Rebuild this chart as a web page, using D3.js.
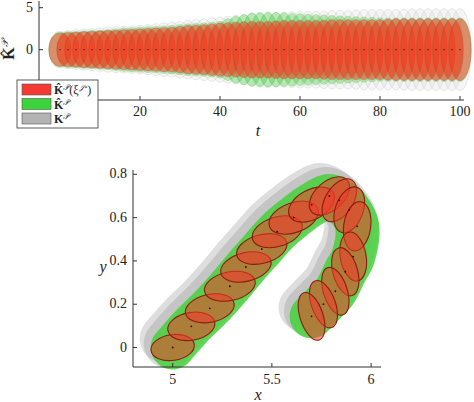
<!DOCTYPE html>
<html><head><meta charset="utf-8">
<script src="https://cdn.jsdelivr.net/npm/d3@7"></script>
<style>
  body { margin:0; background:#fff; }
  text { font-family:"Liberation Serif", "Times New Roman", serif; fill:#222; }
</style></head>
<body>
<svg id="fig" width="474" height="402"></svg>
<script>
// top panel: half-widths at each t (step 2)
var tKnots = d3.range(0, 101, 2);
var redW   = [2.0,2.05,2.1,2.15,2.2,2.25,2.3,2.35,2.4,2.45,2.5,2.55,2.6,2.65,2.7,2.8,2.9,2.95,3.0,3.1,3.2,3.25,3.3,3.35,3.4,3.4,3.4,3.45,3.5,3.5,3.5,3.5,3.5,3.55,3.6,3.6,3.6,3.6,3.6,3.6,3.6,3.65,3.7,3.7,3.7,3.7,3.7,3.7,3.7,3.7,3.7];
var greenW = [2.1,2.15,2.2,2.25,2.3,2.35,2.4,2.5,2.6,2.65,2.7,2.75,2.8,2.85,2.9,3.0,3.1,3.15,3.2,3.3,3.4,3.7,4.0,4.2,4.4,4.45,4.5,4.45,4.4,4.35,4.3,4.25,4.2,4.15,4.1,4.05,4.0,3.95,3.9,3.85,3.8,3.8,3.8,3.8,3.8,3.8,3.8,3.8,3.8,3.8,3.8];
var grayW  = [2.2,2.3,2.4,2.45,2.5,2.6,2.7,2.75,2.8,2.85,2.9,3.0,3.1,3.2,3.3,3.4,3.5,3.6,3.7,3.8,3.9,4.0,4.1,4.2,4.3,4.35,4.4,4.45,4.5,4.55,4.6,4.6,4.6,4.65,4.7,4.7,4.7,4.75,4.8,4.8,4.8,4.8,4.8,4.85,4.9,4.9,4.9,4.9,4.9,4.9,4.9];
var topXTicks = [20,40,60,80,100];
var topYTicks = [0,5];

// bottom panel: ellipse centres, semi-axes (x units), rotation (deg)
var ex = [5.00,5.094,5.187,5.288,5.369,5.449,5.527,5.61,5.70,5.79,5.84,5.89,5.93,5.91,5.87,5.82,5.76,5.70];
var ey = [0.00,0.098,0.181,0.283,0.372,0.455,0.535,0.60,0.66,0.70,0.68,0.636,0.56,0.42,0.35,0.26,0.20,0.144];
var ea = [0.11,0.12,0.125,0.13,0.13,0.13,0.13,0.13,0.125,0.12,0.12,0.12,0.125,0.125,0.125,0.125,0.125,0.125];
var eb = [0.065,0.07,0.07,0.072,0.072,0.072,0.074,0.075,0.075,0.072,0.07,0.07,0.068,0.065,0.062,0.06,0.06,0.058];
var eRot = [-8,-10,-12,-12,-14,-15,-17,-20,-28,-42,-58,-70,-82,80,74,72,70,72];
var botXTicks = [5,5.5,6];
var botYTicks = [0,0.2,0.4,0.6,0.8];

var svg = d3.select("#fig");

// ---------- top ----------
var x1 = d3.scaleLinear().domain([-5.25,101]).range([39,464]);
var y1 = d3.scaleLinear().domain([-6,5.8]).range([100,1]);
var g1 = svg.append("g");
var rx1 = x1(2.8) - x1(0);

function band(ws, fill, stroke, op, sop) {
  g1.selectAll(null).data(tKnots).enter().append("ellipse")
    .attr("cx", function(d){ return x1(d); })
    .attr("cy", y1(0))
    .attr("rx", rx1)
    .attr("ry", function(d,i){ return y1(0) - y1(ws[i]); })
    .attr("fill", fill).attr("fill-opacity", op)
    .attr("stroke", stroke).attr("stroke-opacity", sop).attr("stroke-width", 0.6);
}
band(grayW, "#cccccc", "#a0a0a0", 0.2, 0.35);
band(greenW, "#3fd23a", "#2aa52a", 0.35, 0.3);
band(redW, "#ff3322", "#a02a18", 0.5, 0.3);
g1.selectAll(null).data(tKnots).enter().append("circle")
  .attr("cx", function(d){ return x1(d); }).attr("cy", y1(0)).attr("r", 0.7).attr("fill", "#3a1a10");

g1.append("line").attr("x1",39).attr("x2",39).attr("y1",1).attr("y2",100).attr("stroke","#333");
g1.append("line").attr("x1",39).attr("x2",464).attr("y1",100).attr("y2",100).attr("stroke","#333");
topXTicks.forEach(function(t){
  g1.append("line").attr("x1",x1(t)).attr("x2",x1(t)).attr("y1",100).attr("y2",96).attr("stroke","#333");
  g1.append("text").attr("x",x1(t)).attr("y",116).attr("text-anchor","middle").attr("font-size",14).text(t);
});
topYTicks.forEach(function(v){
  g1.append("line").attr("x1",39).attr("x2",43).attr("y1",y1(v)).attr("y2",y1(v)).attr("stroke","#333");
  g1.append("text").attr("x",33).attr("y",y1(v)+4).attr("text-anchor","end").attr("font-size",14).text(v);
});
g1.append("text").attr("x",258).attr("y",136).attr("text-anchor","middle").attr("font-size",16).attr("font-style","italic").text("t");
var yl = g1.append("text").attr("transform","translate(14,50) rotate(-90)").attr("text-anchor","middle").attr("font-size",16);
yl.append("tspan").attr("font-weight","bold").text("K\u0302");
yl.append("tspan").attr("font-size",10).attr("dy",-6).attr("font-style","italic").text("\uD835\uDCAB");

// legend
var lg = g1.append("g").attr("transform","translate(17,80)");
lg.append("rect").attr("width",81).attr("height",48).attr("fill","#fff").attr("stroke","#333").attr("stroke-width",0.8);
var legItems = [
  {c:"#f43a33", hat:true, arg:true},
  {c:"#3cd33c", hat:true, arg:false},
  {c:"#b3b3b3", hat:false, arg:false}
];
legItems.forEach(function(it,i){
  var yy = 4 + i*14.5;
  lg.append("rect").attr("x",5).attr("y",yy).attr("width",29).attr("height",11).attr("fill",it.c).attr("stroke","#555").attr("stroke-width",0.6);
  var tx = lg.append("text").attr("x",37).attr("y",yy+10).attr("font-size",12);
  tx.append("tspan").attr("font-weight","bold").text(it.hat ? "K\u0302" : "K");
  tx.append("tspan").attr("font-size",8).attr("dy",-4).attr("font-style","italic").text("\uD835\uDCAB");
  if (it.arg) {
    tx.append("tspan").attr("dy",4).text("(\u03BE");
    tx.append("tspan").attr("font-size",7).attr("dy",-4).attr("font-style","italic").text("\uD835\uDCA5*");
    tx.append("tspan").attr("dy",4).text(")");
  }
});

// ---------- bottom ----------
var x2 = d3.scaleLinear().domain([4.8,6.05]).range([133,381]);
var y2 = d3.scaleLinear().domain([-0.09,0.82]).range([367,170]);
var g2 = svg.append("g");
var pts = ex.map(function(d,i){ return [x2(d), y2(ey[i])]; });
var line = d3.line().curve(d3.curveCatmullRom.alpha(0.5));

g2.append("path").attr("d", line(pts)).attr("transform","translate(-9,-9)")
  .attr("fill","none").attr("stroke","#dadada").attr("stroke-opacity",0.9)
  .attr("stroke-width",48).attr("stroke-linecap","round").attr("stroke-linejoin","round");
g2.append("path").attr("d", line(pts)).attr("transform","translate(-4,-4)")
  .attr("fill","none").attr("stroke","#8a8a8a").attr("stroke-opacity",0.3)
  .attr("stroke-dasharray","1.5,2").attr("stroke-width",50).attr("stroke-linecap","round");
g2.append("path").attr("d", line(pts))
  .attr("fill","none").attr("stroke","#45d03a").attr("stroke-opacity",0.85)
  .attr("stroke-width",44).attr("stroke-linecap","round").attr("stroke-linejoin","round");

var sx = x2(1) - x2(0);
g2.selectAll(null).data(ex).enter().append("ellipse")
  .attr("transform", function(d,i){ return "translate(" + x2(d) + "," + y2(ey[i]) + ") rotate(" + eRot[i] + ")"; })
  .attr("rx", function(d,i){ return ea[i]*sx; })
  .attr("ry", function(d,i){ return eb[i]*sx; })
  .attr("fill","#f23a2a").attr("fill-opacity",0.55)
  .attr("stroke","#8a1c10").attr("stroke-width",1.1);
g2.selectAll(null).data(ex).enter().append("circle")
  .attr("cx", function(d){ return x2(d); }).attr("cy", function(d,i){ return y2(ey[i]); })
  .attr("r",0.9).attr("fill","#2a1208");

g2.append("line").attr("x1",133).attr("x2",133).attr("y1",170).attr("y2",367).attr("stroke","#333");
g2.append("line").attr("x1",133).attr("x2",381).attr("y1",367).attr("y2",367).attr("stroke","#333");
botXTicks.forEach(function(v){
  g2.append("line").attr("x1",x2(v)).attr("x2",x2(v)).attr("y1",367).attr("y2",363).attr("stroke","#333");
  g2.append("text").attr("x",x2(v)).attr("y",384).attr("text-anchor","middle").attr("font-size",14).text(v);
});
botYTicks.forEach(function(v){
  g2.append("line").attr("x1",133).attr("x2",137).attr("y1",y2(v)).attr("y2",y2(v)).attr("stroke","#333");
  g2.append("text").attr("x",127).attr("y",y2(v)+4).attr("text-anchor","end").attr("font-size",14).text(v);
});
g2.append("text").attr("x",258).attr("y",400).attr("text-anchor","middle").attr("font-size",16).attr("font-style","italic").text("x");
g2.append("text").attr("x",103).attr("y",272).attr("text-anchor","middle").attr("font-size",16).attr("font-style","italic").text("y");
</script>
</body></html>
